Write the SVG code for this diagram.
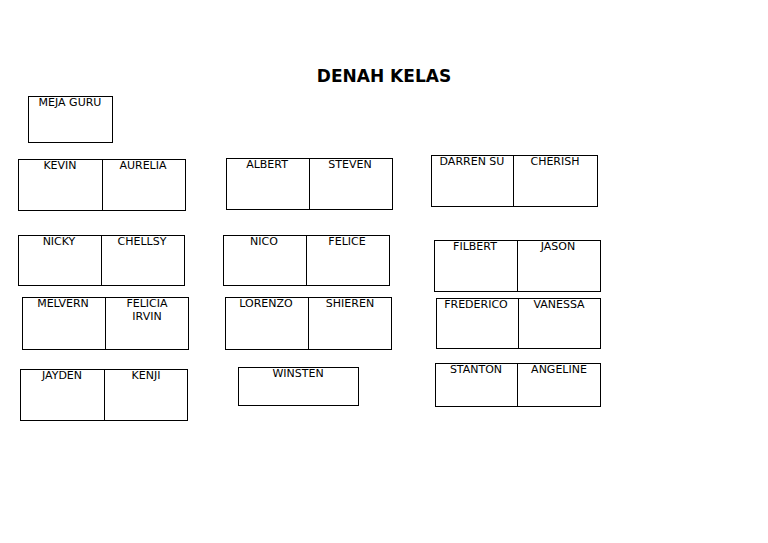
<svg xmlns="http://www.w3.org/2000/svg" width="768" height="543" viewBox="0 0 768 543">
<style>
rect{fill:none;stroke:#000;stroke-width:1}
line{stroke:#000;stroke-width:1}
text{font-family:"DejaVu Sans",sans-serif;font-size:11px;text-anchor:middle;fill:#000}
.t{font-size:17px;font-weight:bold}
</style>
<rect width="768" height="543" fill="#fff" stroke="none" style="fill:#fff;stroke:none"/>
<text class="t" x="384" y="82">DENAH KELAS</text>
<g id="meja-guru"><rect x="28.5" y="96.5" width="84" height="46"/><text x="70" y="106">MEJA GURU</text></g>
<g id="kevin-aurelia"><rect x="18.5" y="159.5" width="167" height="51"/><line x1="102.5" y1="159.5" x2="102.5" y2="210.5"/><text x="60" y="169">KEVIN</text><text x="143" y="169">AURELIA</text></g>
<g id="albert-steven"><rect x="226.5" y="158.5" width="166" height="51"/><line x1="309.5" y1="158.5" x2="309.5" y2="209.5"/><text x="267" y="168">ALBERT</text><text x="350" y="168">STEVEN</text></g>
<g id="darren-cherish"><rect x="431.5" y="155.5" width="166" height="51"/><line x1="513.5" y1="155.5" x2="513.5" y2="206.5"/><text x="472" y="165">DARREN SU</text><text x="555" y="165">CHERISH</text></g>
<g id="nicky-chellsy"><rect x="18.5" y="235.5" width="166" height="50"/><line x1="101.5" y1="235.5" x2="101.5" y2="285.5"/><text x="59" y="245">NICKY</text><text x="142" y="245">CHELLSY</text></g>
<g id="nico-felice"><rect x="223.5" y="235.5" width="166" height="50"/><line x1="306.5" y1="235.5" x2="306.5" y2="285.5"/><text x="264" y="245">NICO</text><text x="347" y="245">FELICE</text></g>
<g id="filbert-jason"><rect x="434.5" y="240.5" width="166" height="51"/><line x1="517.5" y1="240.5" x2="517.5" y2="291.5"/><text x="475" y="250">FILBERT</text><text x="558" y="250">JASON</text></g>
<g id="melvern-felicia"><rect x="22.5" y="297.5" width="166" height="52"/><line x1="105.5" y1="297.5" x2="105.5" y2="349.5"/><text x="63" y="307">MELVERN</text><text x="147" y="307">FELICIA</text><text x="147" y="320">IRVIN</text></g>
<g id="lorenzo-shieren"><rect x="225.5" y="297.5" width="166" height="52"/><line x1="308.5" y1="297.5" x2="308.5" y2="349.5"/><text x="266" y="307">LORENZO</text><text x="350" y="307">SHIEREN</text></g>
<g id="frederico-vanessa"><rect x="436.5" y="298.5" width="164" height="50"/><line x1="518.5" y1="298.5" x2="518.5" y2="348.5"/><text x="476" y="308">FREDERICO</text><text x="559" y="308">VANESSA</text></g>
<g id="jayden-kenji"><rect x="20.5" y="369.5" width="167" height="51"/><line x1="104.5" y1="369.5" x2="104.5" y2="420.5"/><text x="62" y="379">JAYDEN</text><text x="146" y="379">KENJI</text></g>
<g id="winsten"><rect x="238.5" y="367.5" width="120" height="38"/><text x="298" y="377">WINSTEN</text></g>
<g id="stanton-angeline"><rect x="435.5" y="363.5" width="165" height="43"/><line x1="517.5" y1="363.5" x2="517.5" y2="406.5"/><text x="476" y="373">STANTON</text><text x="559" y="373">ANGELINE</text></g>
</svg>
